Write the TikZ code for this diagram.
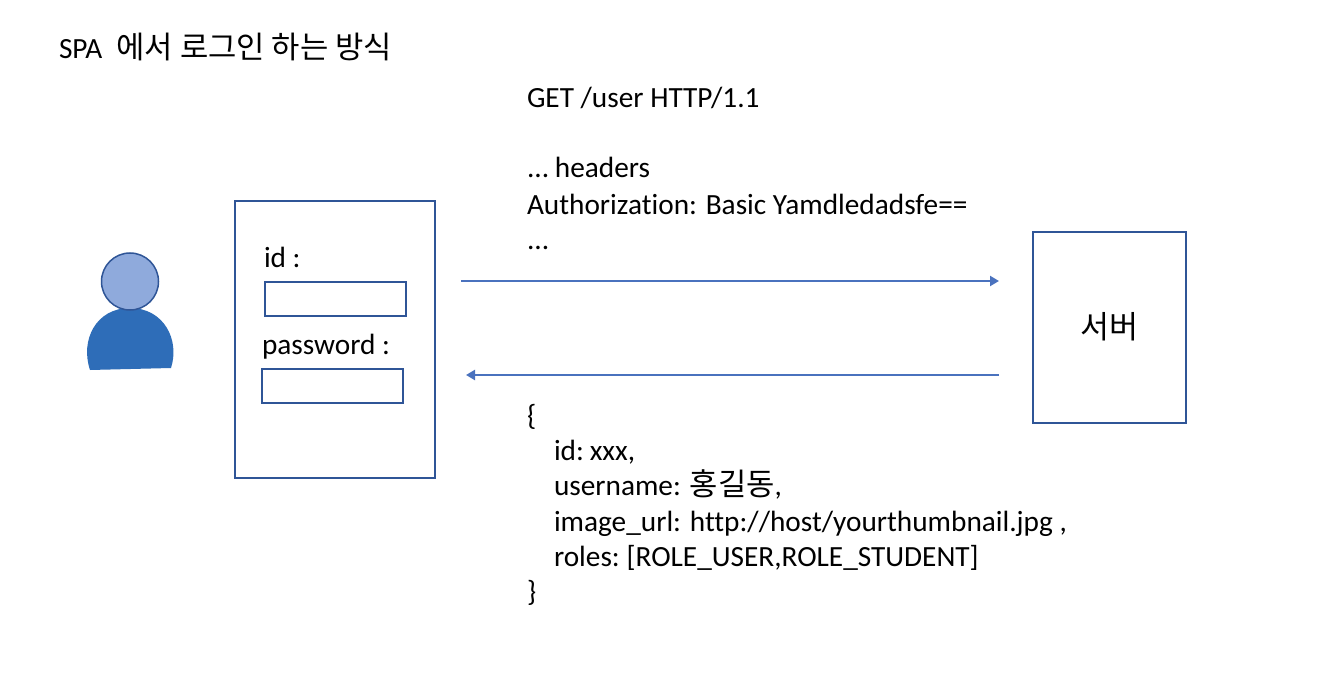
\documentclass[tikz,border=0pt]{standalone}
\usepackage{fontspec}
\setmainfont[Ligatures={NoCommon,NoRequired,NoContextual}]{Carlito}
\newfontfamily\kr[Scale=1.05]{Noto Sans CJK KR}
\usetikzlibrary{arrows.meta}
\definecolor{boxline}{HTML}{2F5597}
\definecolor{arrowline}{HTML}{4A72BE}
\definecolor{headfill}{HTML}{8FAADC}
\definecolor{bodyfill}{HTML}{2E6DB8}
\tikzset{
  txt/.style={anchor=base west,inner sep=0pt,outer sep=0pt,font=\fontsize{29.3}{34}\selectfont,text=black},
  boxed/.style={draw=boxline,line width=2.2pt,fill=white},
  link/.style={draw=arrowline,line width=2.6pt,-{Triangle[length=9pt,width=10pt]}},
}
\begin{document}
\begin{tikzpicture}[x=1pt,y=-1pt]
\useasboundingbox (0,0) rectangle (1318,698);
\fill[white] (0,0) rectangle (1318,698);
\node[txt] (title) at (59,59) {SPA\hspace{7.5pt} {\kr 에서 로그인 하는 방식}};
% person
\fill[bodyfill] (90,370) .. controls (80,340) and (96,308) .. (130,308) .. controls (164,308) and (180,340) .. (171,368) -- cycle;
\node[circle,draw=boxline,line width=1.5pt,fill=headfill,minimum size=57pt,inner sep=0pt] (head) at (130,281.5) {};
% form
\node[boxed,anchor=north west,minimum width=200pt,minimum height=277pt,inner sep=0pt] (form) at (233.7,199.7) {};
\node[txt] (idl) at (264,267.5) {id :};
\node[boxed,anchor=north west,minimum width=141pt,minimum height=34pt,inner sep=0pt] (idbox) at (263.7,280.7) {};
\node[txt] (pwl) at (262,354.5) {password :};
\node[boxed,anchor=north west,minimum width=141pt,minimum height=34pt,inner sep=0pt] (pwbox) at (260.7,367.7) {};
% server
\node[boxed,anchor=north west,minimum width=153pt,minimum height=191pt,inner sep=0pt] (server) at (1031.7,230.7) {};
\node[inner sep=0pt,font=\kr\fontsize{30}{34}\selectfont] (srv) at (1109.5,327) {서버};
% connectors
\coordinate (a1) at (461,281);
\coordinate (a2) at (999,281);
\coordinate (b1) at (999,375);
\coordinate (b2) at (466,375);
\draw[link] (a1) -- (a2);
\draw[link] (b1) -- (b2);
% request
\node[txt] (r1) at (527,107.5) {GET /user HTTP/1.1};
\node[txt] (r2) at (527,178) {...\hspace{-3pt} headers};
\node[txt] (r3) at (527,214.5) {Authorization: Basic Yamdledadsfe==};
\node[txt] (r4) at (527,249.5) {...};
% response
\node[txt] (s1) at (527,425.5) {\{};
\node[txt] (s2) at (554,460.5) {id:\hspace{-3pt} xxx,};
\node[txt] (s3) at (554,495.5) {username: {\kr 홍길동},};
\node[txt] (s4) at (554,531.5) {image\_url: http://host/yourthumbnail.jpg ,};
\node[txt] (s5) at (554,566.5) {roles:\hspace{-2pt} [ROLE\_USER,ROLE\_STUDENT]};
\node[txt] (s6) at (527,601.5) {\}};
\end{tikzpicture}
\end{document}
